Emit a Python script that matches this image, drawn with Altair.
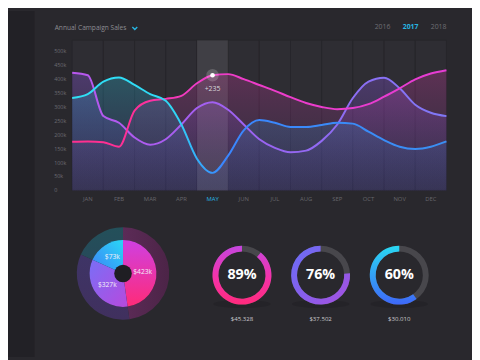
import altair as alt
import pandas as pd

# ---------------- data ----------------
months = ["JAN", "FEB", "MAR", "APR", "MAY", "JUN", "JUL", "AUG", "SEP", "OCT", "NOV", "DEC"]
highlight_month = "MAY"
# sample positions in month-column units (0 = left edge of JAN, 12 = right edge of DEC)
pos = [0, 0.5, 1, 1.5, 2, 2.5, 3, 3.5, 4, 4.5, 5, 5.5, 6, 6.5, 7, 7.5, 8, 8.5, 9, 9.5, 10, 10.5, 11, 11.5, 12]
pink = [175, 176, 173, 157, 287, 322, 329, 340, 385, 414, 418, 400, 379, 358, 335, 314, 300, 292, 296, 310, 337, 367, 399, 420, 432]
cyan = [332, 346, 391, 406, 379, 346, 322, 237, 114, 63, 125, 216, 253, 243, 228, 228, 235, 243, 240, 211, 181, 157, 149, 157, 176]
purple = [423, 414, 267, 243, 190, 164, 184, 237, 296, 317, 290, 237, 184, 153, 137, 143, 178, 237, 332, 391, 405, 367, 308, 279, 267]
y_ticks = [0, 50, 100, 150, 200, 250, 300, 350, 400, 450, 500]
y_tick_labels = ["0", "50k", "100k", "150k", "200k", "250k", "300k", "350k", "400k", "450k", "500k"]
marker_pos = 4.5
marker_label = "+235"

title_text = "Annual Campaign Sales"
years = ["2016", "2017", "2018"]
selected_year = "2017"

pie_labels = ["$423k", "$327k", "$73k"]
pie_share = [47.8, 33.9, 18.3]          # share of the circle (%) as drawn

gauge_names = ["g1", "g2", "g3"]
gauge_pct = [89, 76, 60]
gauge_amounts = ["$45.328", "$37.502", "$30.010"]

# ---------------- layout / style ----------------
W, H = 472, 352
BG = "#29282d"
FONT = "Open Sans"
CYAN_TXT = "#27b6e2"

xs = alt.Scale(domain=[0, 12], range=[65.3, 446.0], nice=False, zero=False)
ys = alt.Scale(domain=[0, 540], range=[182.5, 29.7], nice=False, zero=False)
ts = alt.Scale(domain=[0, 100], range=[0, 6.283185], nice=False, zero=False)


def grad(stops, x1=0, y1=0, x2=0, y2=1):
    return {"gradient": "linear", "x1": x1, "y1": y1, "x2": x2, "y2": y2,
            "stops": [{"offset": o, "color": c} for o, c in stops]}


line_df = pd.DataFrame({"pos": pos, "pink": pink, "cyan": cyan, "purple": purple})
month_df = pd.DataFrame({"month": months, "idx": list(range(len(months)))})
tick_df = pd.DataFrame({"v": y_ticks, "label": y_tick_labels})
one = pd.DataFrame({"t": [title_text]})
year_df = pd.DataFrame({"year": years})
pie_df = pd.DataFrame({"label": pie_labels, "share": pie_share, "idx": list(range(len(pie_labels)))})
gauge_df = pd.DataFrame({"name": gauge_names, "pct": gauge_pct, "amount": gauge_amounts})

layers = []

# left darker strip
layers.append(alt.Chart(one).mark_rect(color="#222126").encode(
    x=alt.value(0), x2=alt.value(27), y=alt.value(0), y2=alt.value(H)))

# plot columns (background + separators)
cols = alt.Chart(month_df).transform_calculate(
    x_end="datum.idx + 1", ytop="540", ybot="0")
layers.append(cols.mark_rect(color="#2e2d33", stroke="#27262b", strokeWidth=1).encode(
    x=alt.X("idx:Q", scale=xs, axis=None), x2="x_end:Q",
    y=alt.Y("ybot:Q", scale=ys, axis=None), y2="ytop:Q"))

# areas
area_specs = [
    ("purple", [(0, "rgba(150,90,240,0.30)"), (1, "rgba(90,70,170,0.10)")]),
    ("pink", [(0, "rgba(230,60,180,0.26)"), (1, "rgba(110,60,150,0.08)")]),
    ("cyan", [(0, "rgba(40,200,230,0.26)"), (1, "rgba(60,90,220,0.10)")]),
]
for col, stops in area_specs:
    layers.append(alt.Chart(line_df).transform_calculate(base="0").mark_area(
        interpolate="monotone", fill=grad(stops)).encode(
        x=alt.X("pos:Q", scale=xs, axis=None),
        y=alt.Y(f"{col}:Q", scale=ys, axis=None),
        y2="base:Q"))

# highlight column
layers.append(cols.transform_filter(alt.datum.month == highlight_month).mark_rect(
    color="#ffffff", opacity=0.09).encode(
    x=alt.X("idx:Q", scale=xs, axis=None), x2="x_end:Q",
    y=alt.Y("ybot:Q", scale=ys, axis=None), y2="ytop:Q"))

# lines
line_specs = [
    ("purple", [(0, "#b957ee"), (0.5, "#9a63f2"), (1, "#7f78f6")]),
    ("pink", [(0, "#ff2f8e"), (0.18, "#ff2f98"), (0.32, "#f03cc6"), (1, "#e63cd4")]),
    ("cyan", [(0, "#2fe0f5"), (0.27, "#2fd8f5"), (0.4, "#3a86ff"), (1, "#3a8ff2")]),
]
for col, stops in line_specs:
    layers.append(alt.Chart(line_df).mark_line(
        interpolate="monotone", stroke=grad(stops, 0, 0, 1, 0), strokeWidth=2).encode(
        x=alt.X("pos:Q", scale=xs, axis=None),
        y=alt.Y(f"{col}:Q", scale=ys, axis=None)))

# marker
mk = alt.Chart(line_df).transform_filter(alt.datum.pos == marker_pos)
layers.append(mk.mark_circle(size=160, color="#ffffff", opacity=0.18).encode(
    x=alt.X("pos:Q", scale=xs, axis=None), y=alt.Y("pink:Q", scale=ys, axis=None)))
layers.append(mk.mark_circle(size=22, color="#ffffff", opacity=1).encode(
    x=alt.X("pos:Q", scale=xs, axis=None), y=alt.Y("pink:Q", scale=ys, axis=None)))
layers.append(mk.transform_calculate(lbl=f"'{marker_label}'").mark_text(
    dy=14, font=FONT, fontSize=7, color="#d8d8dc").encode(
    x=alt.X("pos:Q", scale=xs, axis=None), y=alt.Y("pink:Q", scale=ys, axis=None),
    text="lbl:N"))

# y tick labels
layers.append(alt.Chart(tick_df).mark_text(
    align="left", baseline="middle", font=FONT, fontSize=5.5, color="#6d6c72").encode(
    x=alt.value(47), y=alt.Y("v:Q", scale=ys, axis=None), text="label:N"))

# month labels
layers.append(alt.Chart(month_df).transform_calculate(mid="datum.idx + 0.5").mark_text(
    baseline="middle", font=FONT, fontSize=6).encode(
    x=alt.X("mid:Q", scale=xs, axis=None), y=alt.value(191.3), text="month:N",
    color=alt.when(alt.datum.month == highlight_month).then(alt.value(CYAN_TXT))
    .otherwise(alt.value("#67666c"))))

# header
layers.append(alt.Chart(one).mark_text(
    align="left", baseline="middle", font=FONT, fontSize=6.7, color="#8d8c92").encode(
    x=alt.value(47.5), y=alt.value(17), text="t:N"))
layers.append(alt.Chart(one).mark_point(
    shape="M -1 -0.5 L 0 0.5 L 1 -0.5", filled=False, stroke=CYAN_TXT, strokeWidth=1.4,
    size=25, opacity=1).encode(x=alt.value(129), y=alt.value(17.5)))

yx = alt.X("year:N", scale=alt.Scale(type="point", domain=years, range=[381, 438], padding=0), axis=None)
layers.append(alt.Chart(year_df).transform_filter(alt.datum.year != selected_year).mark_text(
    baseline="middle", font=FONT, fontSize=7, color="#6f6e74").encode(
    x=yx, y=alt.value(16.7), text="year:N"))
layers.append(alt.Chart(year_df).transform_filter(alt.datum.year == selected_year).mark_text(
    baseline="middle", font=FONT, fontSize=7, fontWeight="bold", color=CYAN_TXT).encode(
    x=yx, y=alt.value(16.7), text="year:N"))

# pie
pie = alt.Chart(pie_df).transform_window(
    cum="sum(share)", sort=[alt.SortField("idx")], frame=[None, 0]
).transform_calculate(start="datum.cum - datum.share", mid="datum.cum - datum.share / 2")
PX, PY = alt.value(117), alt.value(267)

ring_fill = (alt.when(alt.datum.idx == 0).then(alt.value(grad([(0, "#5c2b57"), (1, "#4c2447")], 0, 0, 1, 0)))
             .when(alt.datum.idx == 1).then(alt.value(grad([(0, "#3e3466"), (1, "#40305e")])))
             .otherwise(alt.value(grad([(0, "#23505a"), (1, "#274a5a")]))))
layers.append(pie.mark_arc(radius=47, radius2=34).encode(
    x=PX, y=PY, theta=alt.Theta("start:Q", scale=ts, stack=None), theta2="cum:Q",
    fill=ring_fill))

inner_fill = (alt.when(alt.datum.idx == 0).then(alt.value(grad([(0, "#cf40e2"), (1, "#ff2b78")])))
              .when(alt.datum.idx == 1).then(alt.value(grad([(0, "#7a6ef6"), (1, "#b64ade")], 0, 0, 1, 1)))
              .otherwise(alt.value(grad([(0, "#29d8f5"), (1, "#3d80f8")], 1, 0, 0, 1))))
layers.append(pie.mark_arc(radius=34, radius2=0).encode(
    x=PX, y=PY, theta=alt.Theta("start:Q", scale=ts, stack=None), theta2="cum:Q",
    fill=inner_fill))
layers.append(alt.Chart(one).mark_circle(size=320, color="#1f1e23", opacity=1).encode(x=PX, y=PY))
layers.append(pie.mark_text(radius=20, font=FONT, fontSize=6.8, color="#f4f0f8").encode(
    x=PX, y=PY, theta=alt.Theta("mid:Q", scale=ts, stack=None), text="label:N"))

# gauges
gx = alt.X("name:N", scale=alt.Scale(type="point", domain=gauge_names, range=[238, 398], padding=0), axis=None)
GY = alt.value(268.7)
gauge = alt.Chart(gauge_df).transform_calculate(
    start="100 - datum.pct", full="100", zero="0", ptxt="datum.pct + '%'")
layers.append(gauge.mark_point(
    shape="M -1 0 A 1 0.14 0 1 0 1 0 A 1 0.14 0 1 0 -1 0 Z", filled=True, fill="#1c1b1f",
    opacity=0.35, size=3400, strokeWidth=0).encode(x=gx, y=alt.value(298)))
layers.append(gauge.mark_arc(radius=30, radius2=24, color="#48474c").encode(
    x=gx, y=GY, theta=alt.Theta("zero:Q", scale=ts, stack=None), theta2="full:Q"))
g_fill = (alt.when(alt.datum.name == gauge_names[0]).then(alt.value(grad([(0, "#c446e0"), (0.55, "#f532a8"), (1, "#ff2a7c")])))
          .when(alt.datum.name == gauge_names[1]).then(alt.value(grad([(0, "#676ef6"), (1, "#a650e0")], 0, 0, 1, 1)))
          .otherwise(alt.value(grad([(0, "#29d9f3"), (1, "#3e68f8")]))))
layers.append(gauge.mark_arc(radius=30, radius2=24).encode(
    x=gx, y=GY, theta=alt.Theta("start:Q", scale=ts, stack=None), theta2="full:Q",
    fill=g_fill))
layers.append(gauge.mark_text(baseline="middle", font=FONT, fontWeight="bold", fontSize=14.5,
                              color="#ffffff").encode(x=gx, y=GY, text="ptxt:N"))
layers.append(gauge.mark_text(baseline="middle", font=FONT, fontSize=6.2,
                              color="#c9c8cd").encode(x=gx, y=alt.value(313.7), text="amount:N"))

chart = alt.layer(*layers).properties(
    width=W, height=H, background=BG, padding=0,
    autosize=alt.AutoSizeParams(type="none")
).resolve_scale(
    x="independent", y="independent", theta="independent"
).configure_view(stroke=None)

chart.save("out.html", embed_options={"renderer": "svg", "actions": False})
